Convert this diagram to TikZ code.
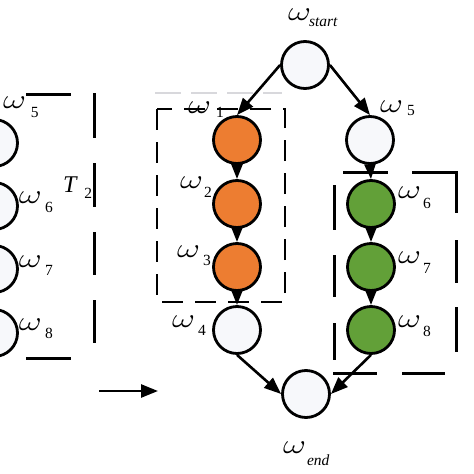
\RequirePackage{fix-cm}
\documentclass[tikz,border=0pt]{standalone}
\usepackage{fontspec}
\setmainfont{Liberation Serif}
\usetikzlibrary{arrows.meta}
\definecolor{orangefill}{HTML}{ED7D31}
\definecolor{greenfill}{HTML}{62A038}
\definecolor{whitefill}{HTML}{F7F8FB}
\definecolor{ghost}{HTML}{D8D8DC}
\newcommand{\wfont}{\fontsize{27}{27}\selectfont}
\newcommand{\subfont}{\fontsize{15.5}{15.5}\selectfont}
\newcommand{\wglyph}{\scalebox{1.32}[1]{$\omega$}}
\newcommand{\wl}[3]{\rlap{\wfont\wglyph}\kern#1pt\raisebox{-#2pt}{\subfont #3}}
\tikzset{
  circ/.style={circle, draw=black, line width=2.8pt, minimum size=47pt, inner sep=0pt},
  wc/.style={circ, fill=whitefill},
  oc/.style={circ, fill=orangefill},
  gc/.style={circ, fill=greenfill},
  arr/.style={line width=2.6pt, -{Triangle[length=17pt,width=13pt]}},
  chain/.style={line width=2.6pt, -{Triangle[length=15pt,width=11pt]}},
  lab/.style={anchor=base west, inner sep=0pt, outer sep=0pt},
  boxline/.style={line width=3pt},
  obox/.style={line width=2.8pt, dash pattern=on 21pt off 12pt},
  ghostline/.style={line width=2pt, draw=ghost, dash pattern=on 26pt off 10pt}
}
\begin{document}
\begin{tikzpicture}[x=1pt,y=-1pt]
\clip (0,0) rectangle (474,474);
\fill[white] (0,0) rectangle (474,474);

% left partial diagram
\node[wc] (l5) at (-6,143) {};
\node[wc] (l6) at (-6,206) {};
\node[wc] (l7) at (-6,269) {};
\node[wc] (l8) at (-6,333) {};
\draw[boxline] (26,94) -- (71,94);
\draw[boxline] (26,358) -- (71,358);
\draw[boxline] (94,93) -- (94,138);
\draw[boxline] (94,163) -- (94,207);
\draw[boxline] (94,232) -- (94,275);
\draw[boxline] (94,300) -- (94,343);
\node[lab] (tl5) at (3,108) {\wl{28}{9}{5}};
\node[lab] (tl6) at (19,203) {\wl{26}{9}{6}};
\node[lab] (tl7) at (19,267) {\wl{26}{8}{7}};
\node[lab] (tl8) at (19,330) {\wl{26}{8}{8}};
\node[lab] (tT) at (63,192) {{\fontsize{24}{24}\selectfont\itshape T}\kern8pt\raisebox{-6pt}{\subfont 2}};

\coordinate (a1) at (99,391);
\coordinate (a2) at (158,391);
\draw[arr] (a1) -- (a2);

% ghost line
\draw[ghostline] (155,93) -- (282,93);

% main diagram nodes
\node[wc] (s) at (305,65) {};
\node[oc] (w1) at (237,140) {};
\node[oc] (w2) at (237,204) {};
\node[oc] (w3) at (237,267) {};
\node[wc] (w4) at (237,330) {};
\node[wc] (w5) at (370,140) {};
\node[gc] (w6) at (371,204) {};
\node[gc] (w7) at (371,267) {};
\node[gc] (w8) at (371,330) {};
\node[wc] (e) at (306,394) {};

% dashed boxes
\draw[obox] (157,109) rectangle (285,302);
\draw[boxline] (343,172) -- (388,172);
\draw[boxline] (412,172) -- (456,172) -- (456,213);
\draw[boxline] (456,240) -- (456,283);
\draw[boxline] (456,307) -- (456,352);
\draw[boxline] (334,185) -- (334,230);
\draw[boxline] (334,255) -- (334,297);
\draw[boxline] (334,323) -- (334,360);
\draw[boxline] (333,373) -- (377,373);
\draw[boxline] (402,373) -- (445,373);

% connectors
\draw[arr] (s.west) -- (w1.north);
\draw[arr] (s.east) -- (w5.north);
\draw[chain] (w1.south) -- (w2.north);
\draw[chain] (w2.south) -- (w3.north);
\draw[chain] (w3.south) -- (w4.north);
\draw[chain] (w5.south) -- (w6.north);
\draw[chain] (w6.south) -- (w7.north);
\draw[chain] (w7.south) -- (w8.north);
\draw[arr] (w4.south) -- (e.west);
\draw[arr] (w8.south) -- (e.east);

% labels
\node[lab] (ts) at (288,20) {\wl{21}{6}{\itshape start}};
\node[lab] (t1) at (188,113) {\wl{28}{4}{1}};
\node[lab] (t2) at (180,188) {\wl{24}{9}{2}};
\node[lab] (t3) at (177,257) {\wl{26}{8}{3}};
\node[lab] (t4) at (172,327) {\wl{26}{8}{4}};
\node[lab] (t5) at (380,112) {\wl{27}{3}{5}};
\node[lab] (t6) at (398,198) {\wl{25}{10}{6}};
\node[lab] (t7) at (398,263) {\wl{25}{10}{7}};
\node[lab] (t8) at (398,327) {\wl{25}{9}{8}};
\node[lab] (te) at (283,453) {\wl{24}{12}{\itshape end}};
\end{tikzpicture}
\end{document}
